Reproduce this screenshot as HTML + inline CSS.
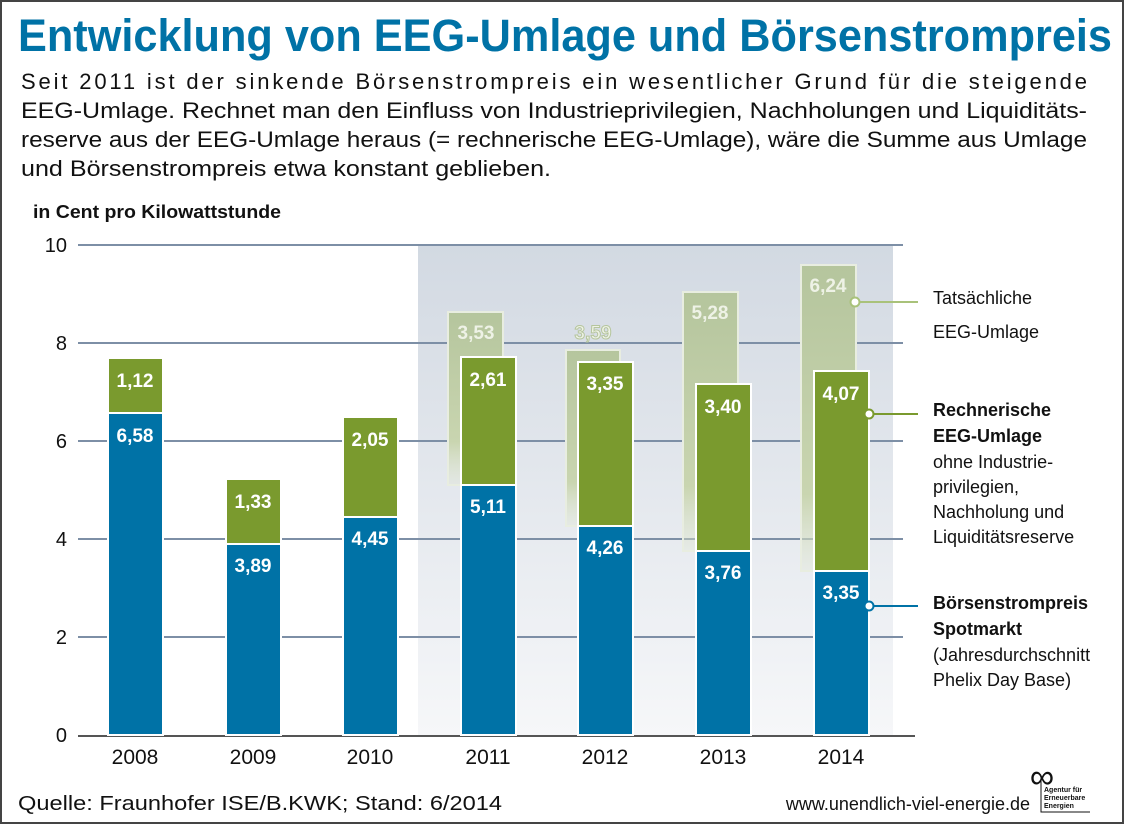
<!DOCTYPE html>
<html><head><meta charset="utf-8"><style>html,body{margin:0;padding:0;background:#fff}svg{display:block}</style></head><body>
<svg width="1124" height="824" viewBox="0 0 1124 824" xmlns="http://www.w3.org/2000/svg" font-family="Liberation Sans, DejaVu Sans, sans-serif">
<defs>
<linearGradient id="bg" x1="0" y1="0" x2="0" y2="1"><stop offset="0" stop-color="#d2d9e2"/><stop offset="1" stop-color="#f6f7f9"/></linearGradient>
<linearGradient id="lg" x1="0" y1="0" x2="0" y2="1"><stop offset="0" stop-color="#b5c59d"/><stop offset="0.75" stop-color="#c9d5b0"/><stop offset="1" stop-color="#dfe6cf" stop-opacity="0.3"/></linearGradient>
</defs>
<rect x="1" y="1" width="1122" height="822" fill="#fff" stroke="#444" stroke-width="2"/>
<text x="18" y="51" font-size="45" font-weight="bold" fill="#0072a6" textLength="1094" lengthAdjust="spacingAndGlyphs">Entwicklung von EEG-Umlage und Börsenstrompreis</text>
<g font-size="22" fill="#111">
<text x="21" y="89" textLength="1066" lengthAdjust="spacing">Seit 2011 ist der sinkende Börsenstrompreis ein wesentlicher Grund für die steigende</text>
<text x="21" y="118" textLength="1066" lengthAdjust="spacingAndGlyphs">EEG-Umlage. Rechnet man den Einfluss von Industrieprivilegien, Nachholungen und Liquiditäts-</text>
<text x="21" y="147" textLength="1066" lengthAdjust="spacingAndGlyphs">reserve aus der EEG-Umlage heraus (= rechnerische EEG-Umlage), wäre die Summe aus Umlage</text>
<text x="21" y="176" textLength="530" lengthAdjust="spacingAndGlyphs">und Börsenstrompreis etwa konstant geblieben.</text>
</g>
<text x="33" y="218" font-size="18" font-weight="bold" fill="#111" textLength="248" lengthAdjust="spacingAndGlyphs">in Cent pro Kilowattstunde</text>
<rect x="418" y="245" width="475" height="490" fill="url(#bg)"/>
<g stroke="#7d8fa6" stroke-width="2">
<line x1="78" y1="245" x2="903" y2="245"/><line x1="78" y1="343" x2="903" y2="343"/><line x1="78" y1="441" x2="903" y2="441"/><line x1="78" y1="539" x2="903" y2="539"/><line x1="78" y1="637" x2="903" y2="637"/>
</g>
<line x1="78" y1="736" x2="915" y2="736" stroke="#555" stroke-width="2"/>
<g font-size="20" fill="#111" text-anchor="end"><text x="67" y="252">10</text><text x="67" y="350">8</text><text x="67" y="448">6</text><text x="67" y="546">4</text><text x="67" y="644">2</text><text x="67" y="742">0</text></g>
<g fill="url(#lg)" stroke="#e8ede0" stroke-width="2">
<rect x="448" y="312" width="55" height="173"/><rect x="566" y="350" width="54" height="176"/><rect x="683" y="292" width="55" height="259"/><rect x="801" y="265" width="55" height="306"/>
</g>
<g font-size="19" font-weight="bold" fill="#eef2e6" text-anchor="middle">
<text x="476" y="339">3,53</text><text x="593" y="339" stroke="#b5c59d" stroke-width="1">3,59</text><text x="710" y="319">5,28</text><text x="828" y="292">6,24</text>
</g>
<g stroke="#fff" stroke-width="2">
<g fill="#7a9a2e">
<rect x="108" y="358" width="55" height="55"/><rect x="226" y="479" width="55" height="65"/><rect x="343" y="417" width="55" height="100"/><rect x="461" y="357" width="55" height="128"/><rect x="578" y="362" width="55" height="164"/><rect x="696" y="384" width="55" height="167"/><rect x="814" y="371" width="55" height="200"/>
</g>
<g fill="#0072a6">
<rect x="108" y="413" width="55" height="322"/><rect x="226" y="544" width="55" height="191"/><rect x="343" y="517" width="55" height="218"/><rect x="461" y="485" width="55" height="250"/><rect x="578" y="526" width="55" height="209"/><rect x="696" y="551" width="55" height="184"/><rect x="814" y="571" width="55" height="164"/>
</g>
</g>
<g font-size="19" font-weight="bold" fill="#fff" text-anchor="middle">
<text x="135" y="387">1,12</text><text x="253" y="508">1,33</text><text x="370" y="446">2,05</text><text x="488" y="386">2,61</text><text x="605" y="390">3,35</text><text x="723" y="413">3,40</text><text x="841" y="400">4,07</text>
<text x="135" y="442">6,58</text><text x="253" y="572">3,89</text><text x="370" y="545">4,45</text><text x="488" y="513">5,11</text><text x="605" y="554">4,26</text><text x="723" y="579">3,76</text><text x="841" y="599">3,35</text>
</g>
<g font-size="21" fill="#111" text-anchor="middle">
<text x="135" y="764">2008</text><text x="253" y="764">2009</text><text x="370" y="764">2010</text><text x="488" y="764">2011</text><text x="605" y="764">2012</text><text x="723" y="764">2013</text><text x="841" y="764">2014</text>
</g>
<line x1="855" y1="302" x2="918" y2="302" stroke="#a9c27a" stroke-width="2"/><circle cx="855" cy="302" r="4.5" fill="#fff" stroke="#a9c27a" stroke-width="2"/>
<line x1="869" y1="414" x2="918" y2="414" stroke="#7a9a2e" stroke-width="2"/><circle cx="869" cy="414" r="4.5" fill="#fff" stroke="#7a9a2e" stroke-width="2"/>
<line x1="869" y1="606" x2="918" y2="606" stroke="#0072a6" stroke-width="2"/><circle cx="869" cy="606" r="4.5" fill="#fff" stroke="#0072a6" stroke-width="2"/>
<g font-size="18" fill="#111">
<text x="933" y="304">Tatsächliche</text><text x="933" y="338">EEG-Umlage</text>
<text x="933" y="416" font-weight="bold">Rechnerische</text><text x="933" y="442" font-weight="bold">EEG-Umlage</text>
<text x="933" y="468">ohne Industrie-</text><text x="933" y="493">privilegien,</text><text x="933" y="518">Nachholung und</text><text x="933" y="543">Liquiditätsreserve</text>
<text x="933" y="609" font-weight="bold">Börsenstrompreis</text><text x="933" y="635" font-weight="bold">Spotmarkt</text>
<text x="933" y="661">(Jahresdurchschnitt</text><text x="933" y="686">Phelix Day Base)</text>
</g>
<text x="18" y="810" font-size="20" fill="#111" textLength="484" lengthAdjust="spacingAndGlyphs">Quelle: Fraunhofer ISE/B.KWK; Stand: 6/2014</text>
<text x="1030" y="810" font-size="18" fill="#111" text-anchor="end">www.unendlich-viel-energie.de</text>
<text x="1042" y="788" font-size="34" fill="#111" text-anchor="middle">∞</text>
<path d="M1041 776 V812 H1090" fill="none" stroke="#111" stroke-width="1"/>
<g font-size="7" font-weight="bold" fill="#111"><text x="1044" y="792">Agentur für</text><text x="1044" y="800">Erneuerbare</text><text x="1044" y="808">Energien</text></g>
</svg>
</body></html>
